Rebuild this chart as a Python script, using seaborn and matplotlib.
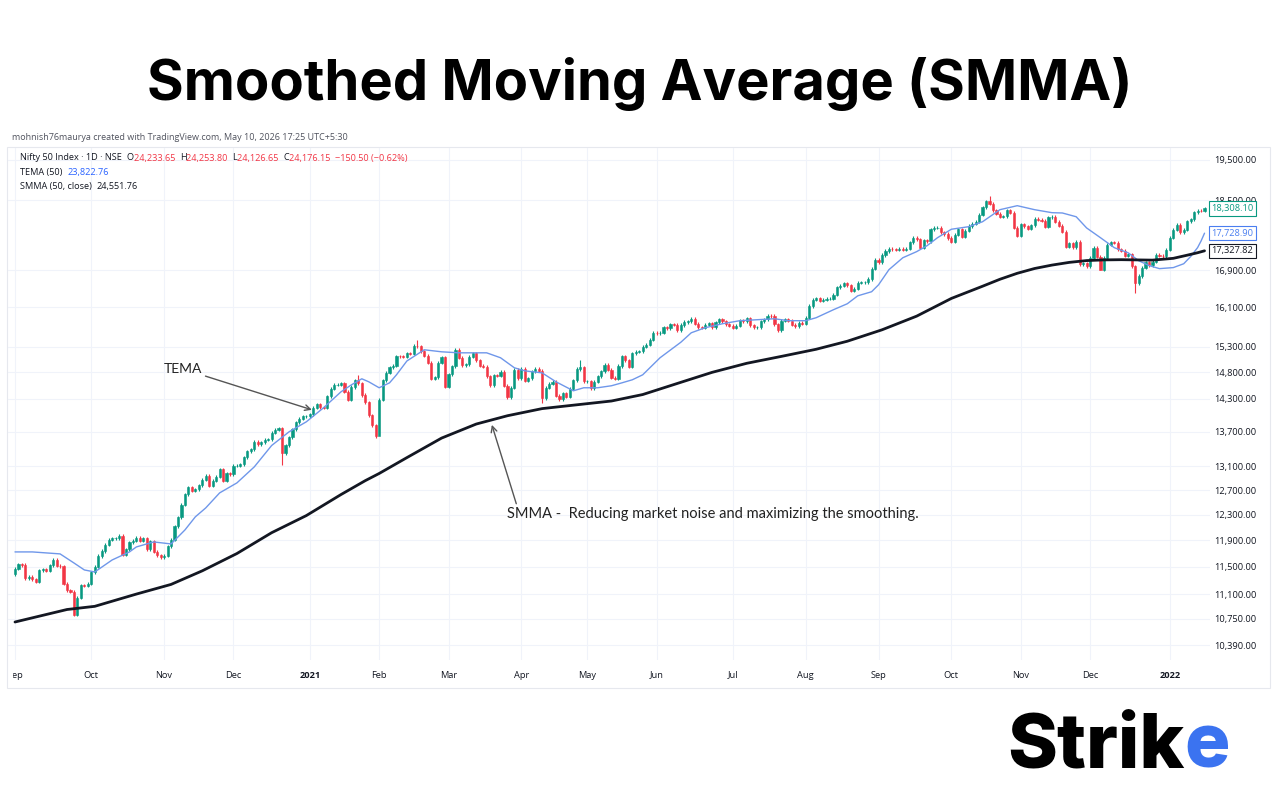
import pandas as pd
import seaborn as sns
import matplotlib.pyplot as plt
from matplotlib.offsetbox import TextArea, HPacker, AnnotationBbox
from matplotlib.patches import Rectangle
from matplotlib.ticker import NullLocator
from matplotlib.transforms import Bbox, TransformedBbox

# Nifty 50 daily closes, one list per month
sep20 = [11470, 11535, 11527, 11333, 11355, 11317, 11278, 11449, 11464, 11440, 11521,
         11605, 11516, 11505, 11250, 11153, 11132, 10806, 11050, 11228, 11222, 11248]
oct20 = [11417, 11503, 11662, 11738, 11835, 11914, 11931, 11934, 11971, 11680, 11762,
         11873, 11897, 11938, 11897, 11930, 11768, 11889, 11730, 11670, 11642]
nov20 = [11669, 11813, 11909, 12120, 12264, 12461, 12631, 12749, 12691, 12720, 12780,
         12874, 12938, 12772, 12859, 12926, 13055, 12858, 12987, 12969]
dec20 = [13109, 13114, 13134, 13259, 13356, 13393, 13529, 13478, 13514, 13558, 13567,
         13682, 13741, 13761, 13328, 13466, 13601, 13749, 13873, 13932, 13982, 13982]
jan21 = [14019, 14133, 14199, 14146, 14137, 14347, 14485, 14564, 14565, 14596, 14433,
         14281, 14521, 14645, 14590, 14372, 14239, 14000, 13818, 13635]
feb21 = [14281, 14648, 14790, 14896, 14924, 15116, 15110, 15106, 15173, 15164, 15315,
         15314, 15209, 15119, 14982, 14676, 14708, 14982, 15097, 14529]
mar21 = [14762, 14920, 15245, 15081, 14938, 14956, 15099, 15175, 15031, 14929, 14911,
         14721, 14558, 14744, 14736, 14815, 14549, 14325, 14507, 14845, 14691]
apr21 = [14867, 14638, 14684, 14819, 14873, 14835, 14311, 14505, 14581, 14618, 14359,
         14296, 14406, 14341, 14485, 14653, 14865, 14895, 14631]
may21 = [14634, 14497, 14618, 14725, 14824, 14942, 14851, 14697, 14678, 14923, 15109,
         15031, 14906, 15175, 15197, 15208, 15302, 15338, 15436, 15583]
jun21 = [15575, 15577, 15690, 15670, 15752, 15741, 15635, 15738, 15800, 15812, 15869,
         15768, 15691, 15683, 15746, 15773, 15687, 15790, 15860, 15815, 15749, 15721]
jul21 = [15680, 15722, 15835, 15819, 15880, 15728, 15690, 15692, 15812, 15854, 15924,
         15923, 15752, 15632, 15824, 15856, 15824, 15746, 15709, 15779, 15763]
aug21 = [15885, 16130, 16258, 16295, 16238, 16258, 16280, 16282, 16365, 16529, 16563,
         16615, 16569, 16451, 16496, 16625, 16634, 16637, 16705, 16931, 17132]
sep21 = [17076, 17234, 17324, 17377, 17362, 17353, 17369, 17355, 17380, 17519, 17630,
         17585, 17397, 17562, 17546, 17823, 17853, 17855, 17748, 17711, 17618]
oct21 = [17532, 17692, 17822, 17646, 17790, 17895, 17946, 17992, 18162, 18339, 18477,
         18419, 18267, 18179, 18115, 18125, 18268, 18211, 17857, 17672]
nov21 = [17930, 17889, 17829, 17917, 18069, 18044, 18017, 17874, 18103, 18109, 17999,
         17899, 17765, 17417, 17503, 17415, 17537, 17026, 17054, 16983]
dec21 = [17167, 17401, 17197, 16913, 17177, 17470, 17517, 17511, 17368, 17325, 17221,
         17248, 16985, 16614, 16771, 16955, 17073, 17004, 17086, 17234, 17214, 17204, 17354]
jan22 = [17625, 17805, 17925, 17746, 17813, 18003, 18056, 18212, 18258, 18256, 18308.10]

month_closes = [sep20, oct20, nov20, dec20, jan21, feb21, mar21, apr21, may21,
                jun21, jul21, aug21, sep21, oct21, nov21, dec21, jan22]
month_names = ["Sep", "Oct", "Nov", "Dec", "2021", "Feb", "Mar", "Apr", "May",
               "Jun", "Jul", "Aug", "Sep", "Oct", "Nov", "Dec", "2022"]
close_before = 11388  # close of the day before the first candle

# candles with a longer wick than usual: (month, day in month) -> price
long_lows = {(0, 17): 10790, (3, 14): 13131, (4, 19): 13596, (5, 0): 13662,
             (7, 6): 14230, (15, 3): 16892, (15, 13): 16410}
long_highs = {(4, 14): 14753, (5, 11): 15432, (7, 17): 15044, (13, 11): 18604}

# indicator lines: candle number -> price
smma_day = [0, 15, 23, 35, 45, 54, 64, 74, 84, 94, 101, 105, 113, 123, 133, 142, 152,
            162, 172, 181, 192, 201, 211, 221, 231, 240, 250, 260, 270, 279, 284, 289,
            294, 299, 304, 309, 314, 319, 328, 334, 338, 341, 343]
smma_val = [10705, 10880, 10925, 11100, 11240, 11440, 11700, 12020, 12290, 12630, 12860,
            12980, 13250, 13590, 13840, 13990, 14120, 14190, 14260, 14380, 14610, 14800,
            14975, 15110, 15250, 15410, 15640, 15920, 16290, 16550, 16700, 16830, 16935,
            17010, 17070, 17110, 17125, 17130, 17120, 17160, 17230, 17285, 17328]
tema_day = [0, 5, 13, 17, 20, 23, 28, 33, 35, 40, 45, 49, 52, 55, 59, 64, 69, 74, 79, 84,
            89, 94, 97, 100, 102, 105, 108, 110, 113, 118, 123, 128, 133, 136, 140, 144,
            147, 152, 156, 161, 164, 168, 172, 175, 178, 181, 186, 192, 195, 199, 204,
            209, 214, 219, 223, 228, 231, 236, 240, 243, 247, 249, 252, 256, 260, 263,
            266, 270, 275, 279, 284, 289, 294, 299, 302, 306, 309, 313, 317, 321, 324,
            327, 330, 334, 337, 339, 341, 342, 343]
tema_val = [11724, 11724, 11694, 11557, 11453, 11423, 11602, 11724, 11800, 11877, 11846,
            12063, 12270, 12413, 12657, 12823, 13092, 13460, 13700, 13880, 14137, 14431,
            14562, 14677, 14620, 14507, 14600, 14753, 15020, 15240, 15200, 15180, 15180,
            15180, 15083, 14888, 14829, 14790, 14620, 14450, 14507, 14507, 14545, 14600,
            14658, 14753, 15083, 15390, 15580, 15682, 15764, 15826, 15846, 15866, 15826,
            15826, 15887, 16053, 16178, 16345, 16432, 16580, 16909, 17173, 17310, 17444,
            17625, 17820, 17879, 17995, 18278, 18373, 18278, 18207, 18200, 18111, 17850,
            17625, 17398, 17283, 17108, 17000, 16932, 16955, 17040, 17200, 17400, 17550,
            17729]

price_ticks = [10390, 10750, 11100, 11500, 11900, 12300, 12700, 13100, 13700, 14300,
               14800, 15300, 16100, 16900, 18500, 19500]
last_close = 18308.10
last_tema = 17728.90
last_smma = 17327.82

GREEN = "#089981"
RED = "#f23645"
BLUE = "#6f97ea"
INK = "#131722"

# build the candle table
rows = []
for m, closes in enumerate(month_closes):
    for d, c in enumerate(closes):
        rows.append({"month": m, "day": d, "close": c})
df = pd.DataFrame(rows)
df["x"] = range(len(df))
df["open"] = df["close"].shift(1).fillna(close_before)
df["top"] = df[["open", "close"]].max(axis=1)
df["bot"] = df[["open", "close"]].min(axis=1)
df["high"] = df["top"] * 1.002
df["low"] = df["bot"] * 0.998
for (m, d), v in long_lows.items():
    df.loc[(df.month == m) & (df.day == d), "low"] = v
for (m, d), v in long_highs.items():
    df.loc[(df.month == m) & (df.day == d), "high"] = v
month_start = df.groupby("month")["x"].min().values

sns.set_theme(style="white")
plt.rcParams["font.family"] = ["Open Sans", "DejaVu Sans"]

fig = plt.figure(figsize=(12.8, 8), dpi=100)
fig.patch.set_facecolor("white")
ax = fig.add_axes([8 / 1280, 140 / 800, 1202 / 1280, 512 / 800])
ax.set_yscale("log")

colors = [GREEN if c >= o else RED for o, c in zip(df["open"], df["close"])]
ax.vlines(df["x"], df["low"], df["high"], colors=colors, lw=0.8, zorder=3)
ax.bar(df["x"], df["top"] - df["bot"], bottom=df["bot"], width=0.62, color=colors,
       edgecolor=colors, linewidth=0.4, zorder=3)

sns.lineplot(x=tema_day, y=tema_val, ax=ax, color=BLUE, linewidth=1.0, estimator=None, zorder=4)
sns.lineplot(x=smma_day, y=smma_val, ax=ax, color=INK, linewidth=2.0, estimator=None, zorder=5)

ax.set_xlim((8 - 15) / 3.468, (1210 - 15) / 3.468)
ax.set_ylim(10190, 19801)

ax.set_yticks(price_ticks)
ax.yaxis.set_minor_locator(NullLocator())
ax.set_yticklabels([f"{v:,.2f}" for v in price_ticks])
ax.yaxis.tick_right()
ax.tick_params(axis="y", length=0, pad=3, labelsize=6.7, labelcolor=INK)
ax.set_xticks(month_start)
ax.set_xticklabels([])
ax.tick_params(axis="x", length=0)
ax.grid(True, color="#f0f3fa", lw=0.8)
ax.set_axisbelow(True)
ax.set_xlabel("")
ax.set_ylabel("")
for s in ax.spines.values():
    s.set_visible(False)

# month labels under the plot, the first one cut by the panel edge
clip = TransformedBbox(Bbox.from_extents(13 / 1280, 0, 1, 1), fig.transFigure)
for x, name in zip(month_start, month_names):
    t = ax.text(x, -0.0293, name, transform=ax.get_xaxis_transform(), ha="center",
                va="center", fontsize=6.7, color=INK,
                weight="bold" if name.isdigit() else "normal")
    t.set_clip_box(clip)
    t.set_clip_on(True)

# last value boxes on the price scale
for v, c in [(last_close, GREEN), (last_tema, "#4a7ef0"), (last_smma, INK)]:
    ax.annotate(f"{v:,.2f}", xy=(1.0, v), xycoords=("axes fraction", "data"),
                xytext=(1, 0), textcoords="offset points", ha="left", va="center",
                fontsize=6.7, color=c,
                bbox=dict(boxstyle="square,pad=0.28", fc="white", ec=c, lw=0.8))

# annotations
ax.annotate("TEMA", xy=(85.6, 14098), xytext=(183, 431), textcoords="figure pixels",
            ha="center", va="center", fontsize=10, family=["Lato", "DejaVu Sans"], color="#222222",
            arrowprops=dict(arrowstyle="->", color="#555555", lw=1, shrinkA=0, shrinkB=0))
ax.annotate("SMMA -  Reducing market noise and maximizing the smoothing.",
            xy=(137.5, 13826), xytext=(507, 286), textcoords="figure pixels",
            ha="left", va="center", fontsize=10.5, family=["Lato", "DejaVu Sans"], color="#222222",
            arrowprops=dict(arrowstyle="->", color="#555555", lw=1, shrinkA=0, shrinkB=0,
                            relpos=(0.025, 1.0)))

# panel frame and TradingView header
fig.add_artist(Rectangle((7 / 1280, 112 / 800), 1263 / 1280, 541 / 800,
                         transform=fig.transFigure, fill=False, ec="#e6e8ee", lw=0.8))
fig.text(12 / 1280, 1 - 138 / 800,
         "mohnish76maurya created with TradingView.com, May 10, 2026 17:25 UTC+5:30",
         fontsize=6.5, color="#50535e", va="center")


def header_line(pieces, y):
    boxes = [TextArea(s, textprops=dict(color=c, fontsize=6.6)) for s, c in pieces]
    pack = HPacker(children=boxes, align="baseline", pad=0, sep=0)
    ab = AnnotationBbox(pack, (20, 800 - y), xycoords="figure pixels",
                        box_alignment=(0, 0.5), frameon=False)
    fig.add_artist(ab)


header_line([("Nifty 50 Index · 1D · NSE  ", INK), ("O", INK), ("24,233.65  ", RED),
             ("H", INK), ("24,253.80  ", RED), ("L", INK), ("24,126.65  ", RED),
             ("C", INK), ("24,176.15  ", RED), ("−150.50 (−0.62%)", RED)], 158)
header_line([("TEMA (50)  ", INK), ("23,822.76", "#2962ff")], 172)
header_line([("SMMA (50, close)  ", INK), ("24,551.76", INK)], 186)

# title, fitted to the width it has in the picture
renderer = fig.canvas.get_renderer()
title = fig.text(0.5, 700 / 800, "Smoothed Moving Average (SMMA)", ha="center",
                 va="baseline", fontsize=40, weight="bold", color="black",
                 family=["Inter", "DejaVu Sans"])
w = title.get_window_extent(renderer).width
title.set_fontsize(40 * 986 / w)

# Strike logo
logo_a = fig.text(1007 / 1280, 32 / 800, "Strik", ha="left", va="baseline", fontsize=60,
                  weight="heavy", color="black", family=["Inter", "DejaVu Sans"])
logo_b = fig.text(0, 32 / 800, "e", ha="left", va="baseline", fontsize=60,
                  weight="heavy", color="#3b73f0", family=["Inter", "DejaVu Sans"])
wa = logo_a.get_window_extent(renderer).width
wb = logo_b.get_window_extent(renderer).width
size = 60 * 223 / (wa + wb)
logo_a.set_fontsize(size)
logo_b.set_fontsize(size)
wa = logo_a.get_window_extent(renderer).width
logo_b.set_x((1007 + wa) / 1280)

fig.savefig("out.png", dpi=100, facecolor="white")
